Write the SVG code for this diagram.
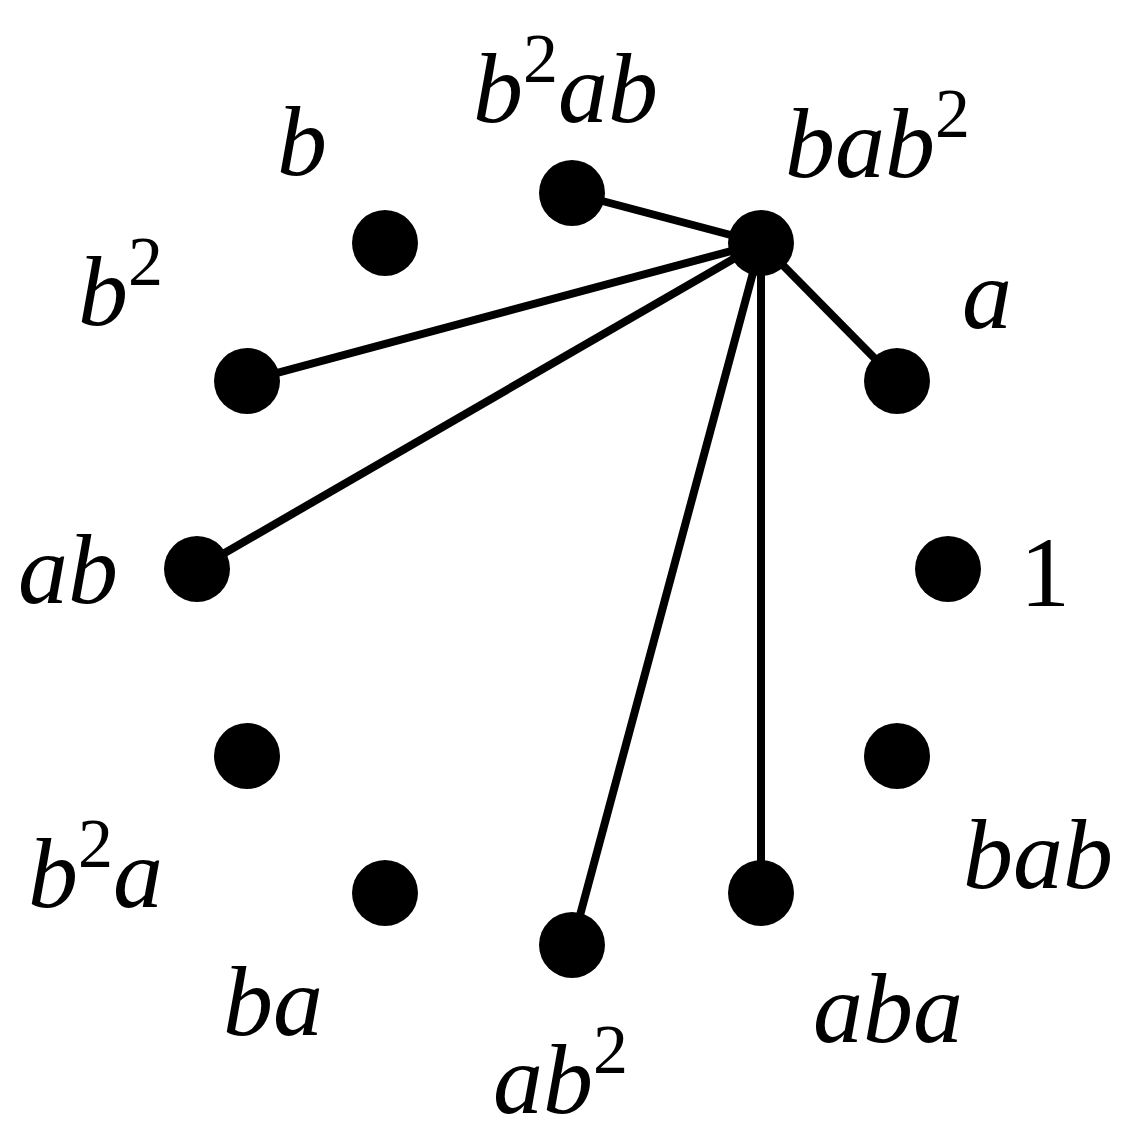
<svg xmlns="http://www.w3.org/2000/svg" width="1141" height="1148" viewBox="0 0 1141 1148">
<style>
.n{fill:#000}
.e{stroke:#000;stroke-width:8;fill:none}
text{font-family:"Liberation Serif","Times New Roman",serif;font-size:100px;font-style:italic;fill:#000}
.up{font-size:70px;font-style:normal}
.r{font-style:normal}
</style>
<rect width="1141" height="1148" fill="#fff"/>
<g id="edges">
<line class="e" x1="761" y1="243" x2="572" y2="193"/>
<line class="e" x1="761" y1="243" x2="247" y2="381"/>
<line class="e" x1="761" y1="243" x2="197" y2="569"/>
<line class="e" x1="761" y1="243" x2="572" y2="945"/>
<line class="e" x1="761" y1="243" x2="761" y2="893"/>
<line class="e" x1="761" y1="243" x2="897" y2="381"/>
</g>
<g id="n1"><circle class="n" cx="948" cy="569" r="33"/><text class="r" x="1020" y="606">1</text></g>
<g id="na"><circle class="n" cx="897" cy="381" r="33"/><text x="962" y="328">a</text></g>
<g id="nbab2"><circle class="n" cx="761" cy="243" r="33"/><text x="785" y="177">bab<tspan class="up" dy="-40">2</tspan></text></g>
<g id="nb2ab"><circle class="n" cx="572" cy="193" r="33"/><text x="473" y="122">b<tspan class="up" dy="-40">2</tspan><tspan dy="40">ab</tspan></text></g>
<g id="nb"><circle class="n" cx="385" cy="243" r="33"/><text x="277" y="175">b</text></g>
<g id="nb2"><circle class="n" cx="247" cy="381" r="33"/><text x="78" y="325">b<tspan class="up" dy="-40">2</tspan></text></g>
<g id="nab"><circle class="n" cx="197" cy="569" r="33"/><text x="18" y="603">ab</text></g>
<g id="nb2a"><circle class="n" cx="247" cy="756" r="33"/><text x="28" y="907">b<tspan class="up" dy="-40">2</tspan><tspan dy="40">a</tspan></text></g>
<g id="nba"><circle class="n" cx="385" cy="893" r="33"/><text x="223" y="1035">ba</text></g>
<g id="nab2"><circle class="n" cx="572" cy="945" r="33"/><text x="493" y="1113">ab<tspan class="up" dy="-40">2</tspan></text></g>
<g id="naba"><circle class="n" cx="761" cy="893" r="33"/><text x="813" y="1042">aba</text></g>
<g id="nbab"><circle class="n" cx="897" cy="756" r="33"/><text x="963" y="888">bab</text></g>
</svg>
